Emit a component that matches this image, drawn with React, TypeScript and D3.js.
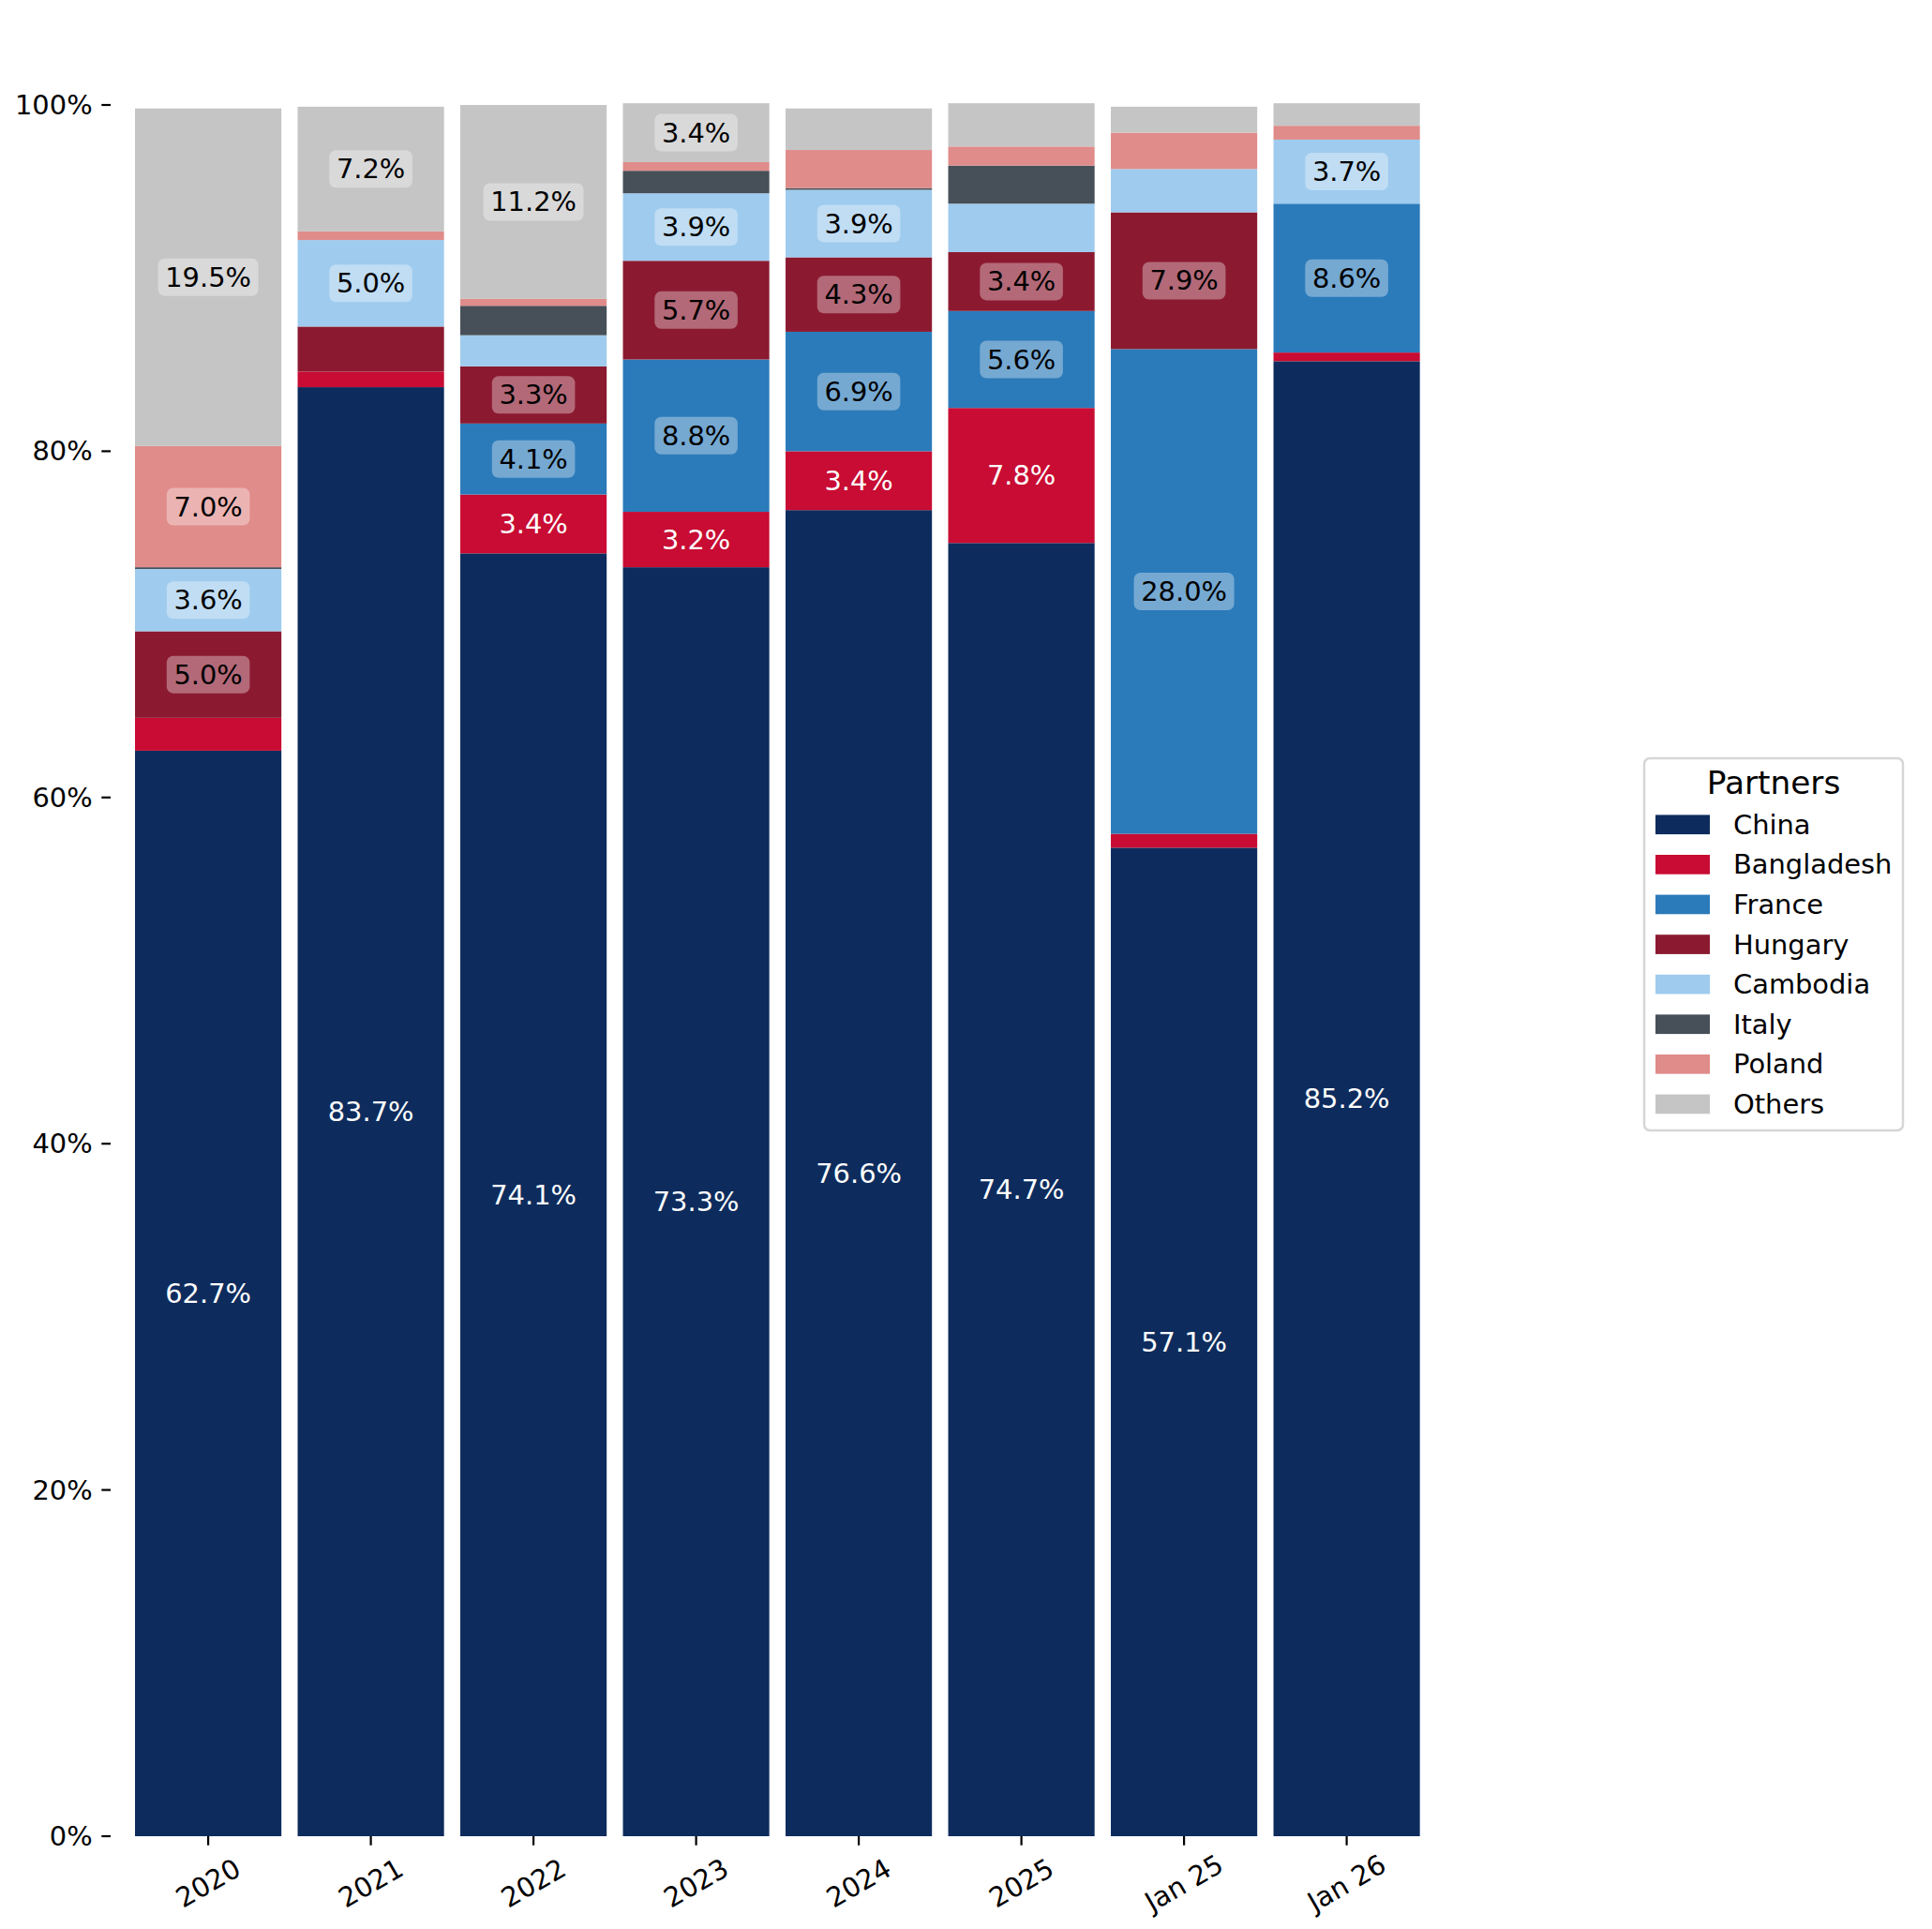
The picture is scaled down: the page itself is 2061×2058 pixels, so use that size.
import React from "react";
import * as d3 from "d3";

const categories = ["2020", "2021", "2022", "2023", "2024", "2025", "Jan 25", "Jan 26"];
const partners = ["China", "Bangladesh", "France", "Hungary", "Cambodia", "Italy", "Poland", "Others"];
const colors = ["#0d2c5d", "#c80c33", "#2b7bba", "#8b1a30", "#9ecbee", "#474f58", "#e08c8a", "#c5c5c5"];

const china = [62.7, 83.7, 74.1, 73.3, 76.6, 74.7, 57.1, 85.2];
const bangladesh = [1.9, 0.9, 3.4, 3.2, 3.4, 7.8, 0.8, 0.5];
const france = [0, 0, 4.1, 8.8, 6.9, 5.6, 28.0, 8.6];
const hungary = [5.0, 2.6, 3.3, 5.7, 4.3, 3.4, 7.9, 0];
const cambodia = [3.6, 5.0, 1.8, 3.9, 3.9, 2.8, 2.5, 3.7];
const italy = [0.1, 0, 1.7, 1.3, 0.1, 2.2, 0, 0];
const poland = [7.0, 0.5, 0.4, 0.5, 2.2, 1.1, 2.1, 0.8];
const others = [19.5, 7.2, 11.2, 3.4, 2.4, 2.5, 1.5, 1.3];

const yTicks = [0, 20, 40, 60, 80, 100];

const seriesValues = [china, bangladesh, france, hungary, cambodia, italy, poland, others];

const W = 2061;
const H = 2058;
const FS = 28.9;
const FONT = "DejaVu Sans";

function textWidth(s: string) {
  let w = 0;
  for (const c of s) {
    if (c === ".") w += 0.318;
    else if (c === "%") w += 0.95;
    else w += 0.636;
  }
  return w * FS;
}

export default function App() {
  const rows = categories.map((c, i) => {
    const r: any = { cat: c };
    partners.forEach((p, k) => (r[p] = seriesValues[k][i]));
    return r;
  });
  const stacked = d3.stack().keys(partners)(rows as any);

  const x = d3
    .scaleBand()
    .domain(categories)
    .range([118, 1540.7])
    .paddingInner(0.1)
    .paddingOuter(0.15);
  const y = d3.scaleLinear().domain([0, 100]).range([1959, 112]);

  const axisLeft = 118;
  const axisBottom = y(0);

  return (
    <svg
      width={W}
      height={H}
      style={{ position: "absolute", left: 0, top: 0, background: "#fff" }}
      fontFamily={FONT}
    >
      <rect x={0} y={0} width={W} height={H} fill="#fff" />
      {stacked.map((layer, k) => (
        <g key={partners[k]} fill={colors[k]}>
          {layer.map((d, i) => {
            const h = y(d[0]) - y(d[1]);
            if (h <= 0) return null;
            return (
              <rect
                key={i}
                x={x(categories[i])!}
                y={y(d[1])}
                width={x.bandwidth()}
                height={h}
              />
            );
          })}
        </g>
      ))}
      {stacked.map((layer, k) => (
        <g key={"lab" + partners[k]}>
          {layer.map((d, i) => {
            const v = seriesValues[k][i];
            if (v < 3) return null;
            const cx = x(categories[i])! + x.bandwidth() / 2;
            const cy = y((d[0] + d[1]) / 2);
            const label = v.toFixed(1) + "%";
            const dark = k <= 1;
            const tw = textWidth(label);
            return (
              <g key={i}>
                {!dark && (
                  <rect
                    x={cx - tw / 2 - 7.6}
                    y={cy - 20}
                    width={tw + 15.2}
                    height={40}
                    rx={7}
                    ry={7}
                    fill="#ffffff"
                    fillOpacity={0.35}
                  />
                )}
                <text
                  x={cx}
                  y={cy}
                  textAnchor="middle"
                  dominantBaseline="central"
                  fontSize={FS}
                  fill={dark ? "#ffffff" : "#000000"}
                >
                  {label}
                </text>
              </g>
            );
          })}
        </g>
      ))}
      {/* y axis ticks */}
      <g>
        {yTicks.map((t) => (
          <g key={t}>
            <line x1={axisLeft - 9.7} x2={axisLeft} y1={y(t)} y2={y(t)} stroke="#000" strokeWidth={2.2} />
            <text
              x={axisLeft - 9.7 - 9.7}
              y={y(t)}
              textAnchor="end"
              dominantBaseline="central"
              fontSize={FS}
              fill="#000"
            >
              {t + "%"}
            </text>
          </g>
        ))}
      </g>
      {/* x axis ticks */}
      <g>
        {categories.map((c) => {
          const cx = x(c)! + x.bandwidth() / 2;
          return (
            <g key={c}>
              <line x1={cx} x2={cx} y1={axisBottom} y2={axisBottom + 9.7} stroke="#000" strokeWidth={2.2} />
              <text
                transform={`translate(${cx},${axisBottom + 50}) rotate(-30)`}
                textAnchor="middle"
                dominantBaseline="central"
                fontSize={FS}
                fill="#000"
              >
                {c}
              </text>
            </g>
          );
        })}
      </g>
      {/* legend */}
      <g>
        <rect x={1754} y={809} width={276} height={397} rx={6} ry={6} fill="#fff" stroke="#d6d6d6" strokeWidth={2.5} />
        <text x={1892} y={846.7} textAnchor="middle" fontSize={34.3} fill="#000">
          Partners
        </text>
        {partners.map((p, k) => {
          const cy = 879.7 + k * 42.6;
          return (
            <g key={p}>
              <rect x={1766} y={cy - 10.3} width={58} height={20.7} fill={colors[k]} />
              <text x={1849} y={cy} dominantBaseline="central" fontSize={FS} fill="#000">
                {p}
              </text>
            </g>
          );
        })}
      </g>
    </svg>
  );
}
